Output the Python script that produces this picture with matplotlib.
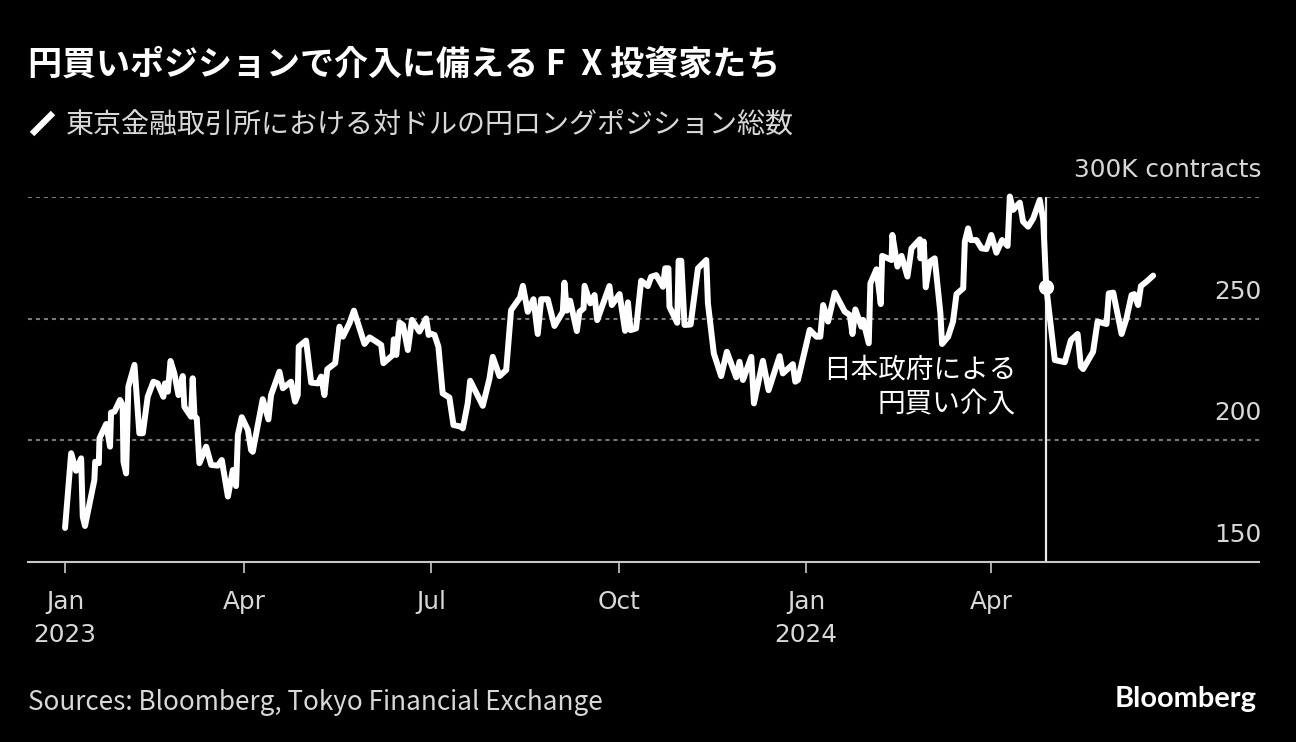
import matplotlib
matplotlib.use("Agg")
import matplotlib.pyplot as plt
from matplotlib.lines import Line2D
import pandas as pd

plt.rcParams['font.family'] = ['Noto Sans CJK JP', 'DejaVu Sans']

start_date = "2023-01-04"
days = [0, 3, 5.4, 7.9, 8.7, 9.8, 14.4, 14.8, 16.6, 16.9, 20.2, 22.1, 22.6, 24.3, 27, 28.3, 28.7, 30,
        31.1, 34.1, 36.5, 38.2, 40.6, 43.4, 45.5, 48.3, 49.1, 50.5, 51.8, 53.7, 55.7, 57.8, 58.6, 61.9,
        62.7, 63.6, 64.7, 66, 69.3, 71.8, 75, 77, 80, 82.4, 84, 84.9, 86.8, 89.8, 91.4, 92.2, 97.1, 99.9,
        101.2, 105.3, 107, 111, 113, 114.3, 114.8, 118.4, 120.9, 124.2, 125.8, 127.4, 128.8, 132.7,
        134.8, 136.5, 139.7, 141.9, 147.1, 149.6, 152.8, 155.3, 156.4, 161, 161.5, 162.7, 164.3, 166,
        168.4, 170.4, 174.1, 177.4, 178.6,
        179.5, 181.5, 183.4, 185.5, 188.8, 190.8, 194.6, 195.4, 197.8, 199, 205.2, 208.5, 210.1, 213.4,
        216.7, 219.1, 223.5, 224.9, 227.3, 230.1, 232.2, 233.9, 237.1, 240.4, 244.5, 245.3, 246.5, 248.1,
        251.4, 252.7, 254.7, 255.2, 258, 260.1, 261.4, 267.4, 268.6, 272.4, 275.1, 276.5, 277.8, 280.5,
        283, 286.3, 287.9, 290.4, 293.7, 294.8, 296.4, 296.9, 300.7, 301.4, 302.7, 304.3, 307.3, 310.9,
        315, 315.8, 318.7, 322.3, 325.1, 329.7, 331.3, 333, 337.1, 338.4, 342.8, 345.6, 351, 352.6, 357.5,
        358.7, 360,
        365.8, 369.1, 371, 372.4, 374.8, 378.1, 383, 385.5, 386.8, 388.2, 391.2, 392, 394.8, 395.6, 398.6,
        400.7, 401.4, 406, 406.4, 408.9, 410.9, 413.8, 415.8, 419.9, 420.2, 421.8, 422.8, 424.8, 427.2,
        430, 430.8, 433.8, 436.2, 437.9, 441.2, 442, 443.6, 444.9, 447.7, 450.2, 452.6, 455, 457.5, 460.3,
        463, 464.1, 465.7, 469, 470.6, 473.1, 475.6, 478.8, 480.5, 482, 486.2, 491.1, 494.1, 497.4, 499,
        500.1, 505, 507.2, 511.6, 512.7, 514.9, 519, 521.4, 523.9, 525.2, 527.1, 528.5, 531.2, 534.5]
contracts = [164, 194.7, 187.5, 192.6, 168.6, 164.8, 183.7, 191.2, 190.6, 200.8, 206.7, 197.4, 211.4, 211.8,
             216.6, 214.5, 191.2, 186.4, 222.1, 231, 202.9, 202.9, 217.9, 224.1, 223.4, 217.9, 223.4, 220,
             232.6, 227.5, 218.6, 226.4, 213.8, 209.7, 225.5, 209.7, 209.1, 190.6, 197.4, 189.9, 189.6,
             191.9, 176.9, 187.8, 181.2, 202.2, 209.5, 204.3, 196, 195.3, 216.9, 208.6, 218.6, 228.2, 221.4,
             224.1, 215.9, 218.6, 238.5, 241, 223.7, 223.4, 226.2, 218.6, 229.2, 231.7, 246.7, 242.6, 248.1,
             253.3, 239.6, 242.3, 240.6, 239.2, 231.7, 235.1, 241.5, 235.1, 248.4, 247.4, 237.1, 249.5,
             244.7, 250.1, 243.3,
             243.9, 243.3, 238.5, 219.3, 217.6, 206.3, 205.6, 204.9, 215.2, 224.5, 214.2, 225.4, 234.3, 226.4,
             228.9, 253.5, 258.7, 263.5, 252.8, 258, 243.7, 258, 258, 247, 252.8, 264.8, 253.3, 257.4,
             244.9, 252.8, 254.2, 263.5, 256.3, 259.7, 249.4, 263.4, 255.6, 260.1, 245, 256.7, 245.3, 246,
             265.6, 263.4, 267.2, 267.9, 263.1, 270.7, 270.7, 254.9, 248.3, 273.8, 273.8, 247.4, 247.6, 270.7,
             274.1, 256.3, 235.7, 226.4, 236.4, 225.9, 232.3, 224.8, 234.3, 215.2, 232.7, 220.6, 234.6, 227.5,
             231.3, 224.1, 224.8,
             245.4, 242.6, 242.6, 255.6, 248.8, 260.7, 252.9, 251.5, 243.7, 253.8, 246.7, 249.5, 239.9, 264.5,
             270.3, 256, 275.8, 274.1, 284.4, 271.4, 275.8, 267.3, 278.9, 282.6, 274.8, 281.7, 262.9, 273.4,
             274.8, 252.2, 239.6, 242.6, 248.8, 260.1, 262.5, 281.7, 287.1, 282.3, 282.3, 278.9, 278.6, 284.4,
             277.1, 282.3, 279.9, 300.2, 294.7, 297.7, 289.9, 287.8, 291.2, 298.8, 290.6, 262.9, 233, 232.1,
             241.2, 243.7, 230.3, 229.3, 236.4, 248.8, 247.8, 260.4, 260.7, 243.7, 250.1, 259.7, 260.1, 255.6,
             263.4, 265.2, 267.7]

tick_dates = ["2023-01-04", "2023-04-02", "2023-07-03", "2023-10-03", "2024-01-03", "2024-04-03"]
tick_labels = ["Jan\n2023", "Apr", "Jul", "Oct", "Jan\n2024", "Apr"]
y_ticks = [150, 200, 250, 300]
y_labels = ["150", "200", "250", "300K contracts"]
intervention_day = 482
intervention_value = 262.9

title = "円買いポジションで介入に備える F  X 投資家たち"
subtitle = "東京金融取引所における対ドルの円ロングポジション総数"
note = "日本政府による\n円買い介入"
source = "Sources: Bloomberg, Tokyo Financial Exchange"

W, H = 1296, 742
GREY = "#d8d8d8"
LABEL_FONT = ['DejaVu Sans']


# --- pixel position to figure fraction ---
def fx(px):
    return px / W


def fy(py):
    return 1 - py / H


dates = pd.Timestamp(start_date) + pd.to_timedelta(days, unit="D")
event_date = pd.Timestamp(start_date) + pd.to_timedelta(intervention_day, unit="D")

fig = plt.figure(figsize=(W / 100, H / 100), dpi=100, facecolor="black")
ax = fig.add_axes([fx(28), fy(562), fx(1259) - fx(28), fy(197) - fy(562)], facecolor="black")

ax.set_xlim(pd.Timestamp(start_date) - pd.Timedelta(days=18.2), pd.Timestamp(start_date) + pd.Timedelta(days=586.5))
ax.set_ylim(150, 300)

# gridlines
for v in y_ticks[1:]:
    ax.axhline(v, color="#7a7a7a", lw=1.5, ls=(0, (1.9, 1.95)), zorder=1)

# intervention marker
ax.plot([event_date, event_date], [150, 300], color="#e8e8e8", lw=1.6, zorder=2)
ax.plot(dates, contracts, color="white", lw=4.3, solid_joinstyle="round", solid_capstyle="round",
        clip_on=False, zorder=3)
ax.plot([event_date], [intervention_value], "o", color="white", ms=11, mew=0, zorder=4)

# axes
for side in ["top", "left", "right"]:
    ax.spines[side].set_visible(False)
ax.spines["bottom"].set_color("#c8c8c8")
ax.spines["bottom"].set_linewidth(1.5)
ax.set_yticks([])
ax.set_xticks([pd.Timestamp(d) for d in tick_dates])
ax.set_xticklabels(tick_labels, fontsize=17.8, color=GREY, family=LABEL_FONT, linespacing=1.5)
ax.tick_params(axis="x", length=8, width=1.2, color="#c8c8c8", pad=12)

# y labels sit above the gridlines, right aligned
for v, lab in zip(y_ticks, y_labels):
    ax.annotate(lab, xy=(1.002, v), xycoords=("axes fraction", "data"), xytext=(0, 19.5),
                textcoords="offset points", ha="right", va="center", fontsize=17.8, color=GREY,
                family=LABEL_FONT)

fig.text(fx(28), fy(64), title, fontsize=24.5, fontweight="bold", color="white", va="center")
fig.text(fx(66), fy(125), subtitle, fontsize=20.2, color=GREY, va="center")
fig.add_artist(Line2D([fx(32), fx(53)], [fy(134), fy(113)], color="white", lw=4.5,
                      solid_capstyle="butt", transform=fig.transFigure))

ax.annotate(note, xy=(event_date, 150), xycoords="data", xytext=(fx(1016), fy(387)),
            textcoords="figure fraction", ha="right", va="center", fontsize=19.9, color="white",
            linespacing=1.2)

fig.text(fx(28), fy(702), source, fontsize=18.8, color=GREY, va="center")
fig.text(fx(1257), fy(699), "Bloomberg", fontsize=20.9, fontweight="bold", family="Lato", color="white",
         ha="right", va="center")

fig.savefig("out.png", dpi=100, facecolor="black")
